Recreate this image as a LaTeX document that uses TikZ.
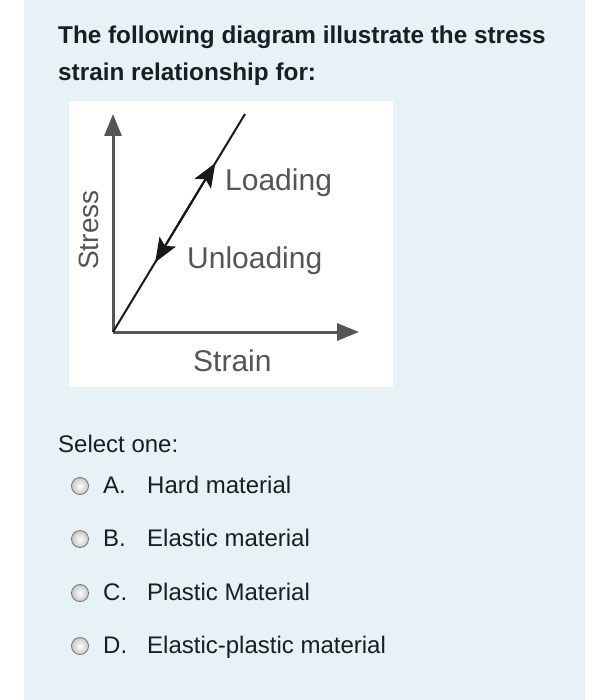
\documentclass[tikz,border=0pt]{standalone}
\usepackage{fontspec}
\setmainfont{Liberation Sans}
\usetikzlibrary{positioning, calc, arrows.meta}
\definecolor{pagebg}{RGB}{231,242,246}
\definecolor{inkdark}{RGB}{24,30,34}
\definecolor{plotgray}{RGB}{85,85,85}

\begin{document}
\begin{tikzpicture}[x=1pt, y=-1pt]
	\tikzstyle{title}=[inner sep=0pt, text=inkdark, font=\fontsize{24.3}{28}\selectfont\bfseries]
\tikzstyle{opt}=[inner sep=0pt, text=inkdark, font=\fontsize{24}{28}\selectfont]
\tikzstyle{lbl}=[inner sep=0pt, text=plotgray, font=\fontsize{30}{32}\selectfont]
\tikzstyle{radio}=[circle, minimum size = 17pt, inner sep=0pt, draw=black!55, thick, inner color=white, outer color=black!22]
\tikzstyle{axis}=[-{Triangle[length=22pt, width=17pt]}, line width=3pt, draw=plotgray, fill=plotgray]
\tikzstyle{connect}=[-{Stealth[length=24pt, width=19pt, inset=5pt]}, line width=2pt, draw=black!90, fill=black!90]
\useasboundingbox (0,0) rectangle (610,700);
\fill[white] (0,0) rectangle (610,700);
\fill[pagebg] (24,0) rectangle (585,700);
\node[title, anchor=base west] (q1) at (58,44) {The following diagram illustrate the stress};
\node[title, anchor=base west] (q2) at (58,81) {strain relationship for:};
\node[fill=white, minimum width=324pt, minimum height=286pt, anchor=north west, inner sep=0pt] (panel) at (69,101) {};
\coordinate (origin) at (113,332);
\coordinate (ytop) at (113,114);
\coordinate (xend) at (359,332);
\coordinate (ltop) at (245,114);
\coordinate (lhead) at ($(origin)!0.775!(ltop)$);
\coordinate (lstart) at ($(origin)!0.5!(ltop)$);
\coordinate (uhead) at ($(origin)!0.32!(ltop)$);
\coordinate (ustart) at ($(origin)!0.6!(ltop)$);
\draw[axis] (origin) -- (ytop);
\draw[axis] (origin) -- (xend);
\draw[line width=2pt, draw=black!90] (origin) -- (ltop);
\draw[connect] (lstart) -- (lhead);
\draw[connect] (ustart) -- (uhead);
\node[lbl, anchor=base west] (load) at (225,191) {Loading};
\node[lbl, anchor=base west] (unload) at (187,269) {Unloading};
\node[lbl, anchor=base west] (strain) at (193,371) {Strain};
\node[lbl, anchor=base, rotate=90, font=\fontsize{28}{30}\selectfont] (stress) at (98,230) {Stress};
\node[opt, anchor=base west] (select) at (58,452) {Select one:};
\node[radio] (ra) at (80,486) {};
\node[radio] (rb) at (80,539) {};
\node[radio] (rc) at (80,593) {};
\node[radio] (rd) at (80,646) {};
\node[opt, anchor=base west] (la) at (103,493) {A.};
\node[opt, anchor=base west] (lb) at (103,546) {B.};
\node[opt, anchor=base west] (lc) at (103,600) {C.};
\node[opt, anchor=base west] (ld) at (103,653) {D.};
\node[opt, anchor=base west] (ta) at (147,493) {Hard material};
\node[opt, anchor=base west] (tb) at (147,546) {Elastic material};
\node[opt, anchor=base west] (tc) at (147,600) {Plastic Material};
\node[opt, anchor=base west] (td) at (147,653) {Elastic-plastic material};
\end{tikzpicture}
\end{document}
